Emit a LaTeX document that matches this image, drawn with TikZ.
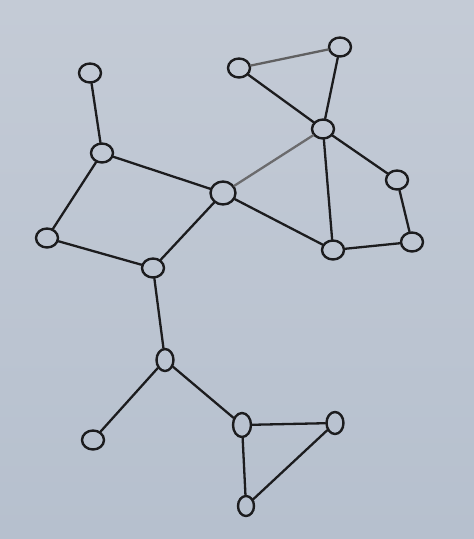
\documentclass[tikz,border=0pt]{standalone}
\usetikzlibrary{shapes.geometric}
\definecolor{board}{RGB}{196,203,214}
\definecolor{boardlow}{RGB}{182,192,206}
\definecolor{ink}{RGB}{28,28,30}
\begin{document}
\begin{tikzpicture}[x=1pt,y=-1pt,
  vtx/.style={ellipse,draw=ink,line width=2.4pt,minimum width=22pt,minimum height=19pt,inner sep=0pt},
  edge/.style={draw=ink,line width=2.3pt,line cap=round}]
\shade[top color=board,bottom color=boardlow] (0,0) rectangle (474,539);
\useasboundingbox (0,0) rectangle (474,539);
\node[vtx] (A) at (90,73) {};
\node[vtx] (B) at (102,153) {};
\node[vtx,minimum width=25pt,minimum height=23pt] (C) at (223,193) {};
\node[vtx] (D) at (47,238) {};
\node[vtx] (E) at (153,268) {};
\node[vtx,minimum width=17pt,minimum height=22pt] (F) at (165,360) {};
\node[vtx] (G) at (93,440) {};
\node[vtx,minimum width=18pt,minimum height=24pt] (H) at (242,425) {};
\node[vtx,minimum width=17pt,minimum height=22pt] (I) at (335,423) {};
\node[vtx,minimum width=16pt,minimum height=20pt] (J) at (246,506) {};
\node[vtx] (K) at (239,68) {};
\node[vtx] (L) at (340,47) {};
\node[vtx] (M) at (323,129) {};
\node[vtx] (N) at (397,180) {};
\node[vtx] (O) at (333,250) {};
\node[vtx] (P) at (412,242) {};
\draw[edge] (A) -- (B);
\draw[edge] (B) -- (C);
\draw[edge] (B) -- (D);
\draw[edge] (D) -- (E);
\draw[edge] (E) -- (C);
\draw[edge,draw=ink!65] (C) -- (M);
\draw[edge] (C) -- (O);
\draw[edge] (E) -- (F);
\draw[edge] (F) -- (G);
\draw[edge] (F) -- (H);
\draw[edge] (H) -- (I);
\draw[edge] (I) -- (J);
\draw[edge] (H) -- (J);
\draw[edge,draw=ink!70] (K) -- (L);
\draw[edge] (K) -- (M);
\draw[edge] (L) -- (M);
\draw[edge] (M) -- (O);
\draw[edge] (M) -- (N);
\draw[edge] (N) -- (P);
\draw[edge] (O) -- (P);
\end{tikzpicture}
\end{document}
